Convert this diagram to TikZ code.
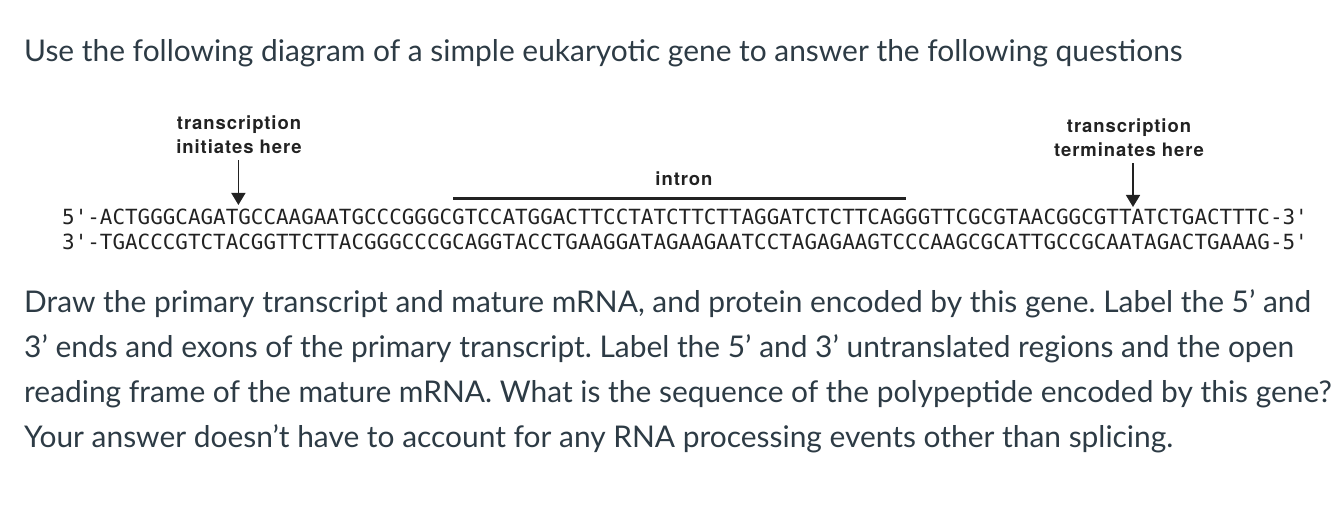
\documentclass[tikz,border=0pt]{standalone}
\usepackage{fontspec}
\setmainfont{Lato}
\newfontfamily\seqfont[Ligatures=TeXOff]{DejaVu Sans Mono}
\newfontfamily\labelfont[LetterSpace=5]{TeX Gyre Heros}
\usetikzlibrary{arrows.meta}
\frenchspacing

\definecolor{canvasgrey}{HTML}{2D3B45}
\definecolor{figgrey}{HTML}{222222}

\tikzset{
	question/.style={anchor=base west, inner sep=0, text=canvasgrey, font=\fontsize{29.9}{34}\selectfont},
	strand/.style={anchor=base west, inner sep=0, text=figgrey, font=\seqfont\fontsize{20.9}{24}\selectfont},
	genelabel/.style={align=center, inner sep=1, text=figgrey, font=\labelfont\bfseries\fontsize{18.5}{24}\selectfont},
	genearrow/.style={draw=figgrey, line width=1.5, -{Triangle[width=14,length=12]}}
}

\begin{document}
\begin{tikzpicture}[x=1pt, y=-1pt]
	\useasboundingbox (0, 0) rectangle (1342, 508);

	\node[question] (title) at (24, 62) {Use the following diagram of a simple eukaryotic gene to answer the following questions};

	\node[strand] (topstrand) at (62, 224) {5'-ACTGGGCAGATGCCAAGAATGCCCGGGCGTCCATGGACTTCCTATCTTCTTAGGATCTCTTCAGGGTTCGCGTAACGGCGTTATCTGACTTTC-3'};
	\node[strand] (botstrand) at (62, 249) {3'-TGACCCGTCTACGGTTCTTACGGGCCCGCAGGTACCTGAAGGATAGAAGAATCCTAGAGAAGTCCCAAGCGCATTGCCGCAATAGACTGAAAG-5'};

	\coordinate (intronL) at (453, 198.5);
	\coordinate (intronR) at (906, 198.5);
	\draw[figgrey, line width=3.5] (intronL) -- (intronR);
	\node[genelabel] (intron) at (684, 179) {intron};

	\node[genelabel] (initlabel) at (239, 135) {transcription\\initiates here};
	\node[genelabel] (termlabel) at (1129, 138) {transcription\\terminates here};
	\coordinate (inittip) at (238.4, 205);
	\coordinate (termtip) at (1133, 207);
	\draw[genearrow] (initlabel.south -| inittip) ++(0, 5) -- (inittip);
	\draw[genearrow] (termlabel.south -| termtip) ++(0, 5) -- (termtip);

	\node[question] (line1) at (24, 312) {Draw the primary transcript and mature mRNA, and protein encoded by this gene. Label the 5’ and};
	\node[question] (line2) at (24, 357) {3’ ends and exons of the primary transcript. Label the 5’ and 3’ untranslated regions and the open};
	\node[question] (line3) at (24, 402) {reading frame of the mature mRNA. What is the sequence of the polypeptide encoded by this gene?};
	\node[question] (line4) at (24, 447) {Your answer doesn’t have to account for any RNA processing events other than splicing.};

\end{tikzpicture}
\end{document}
